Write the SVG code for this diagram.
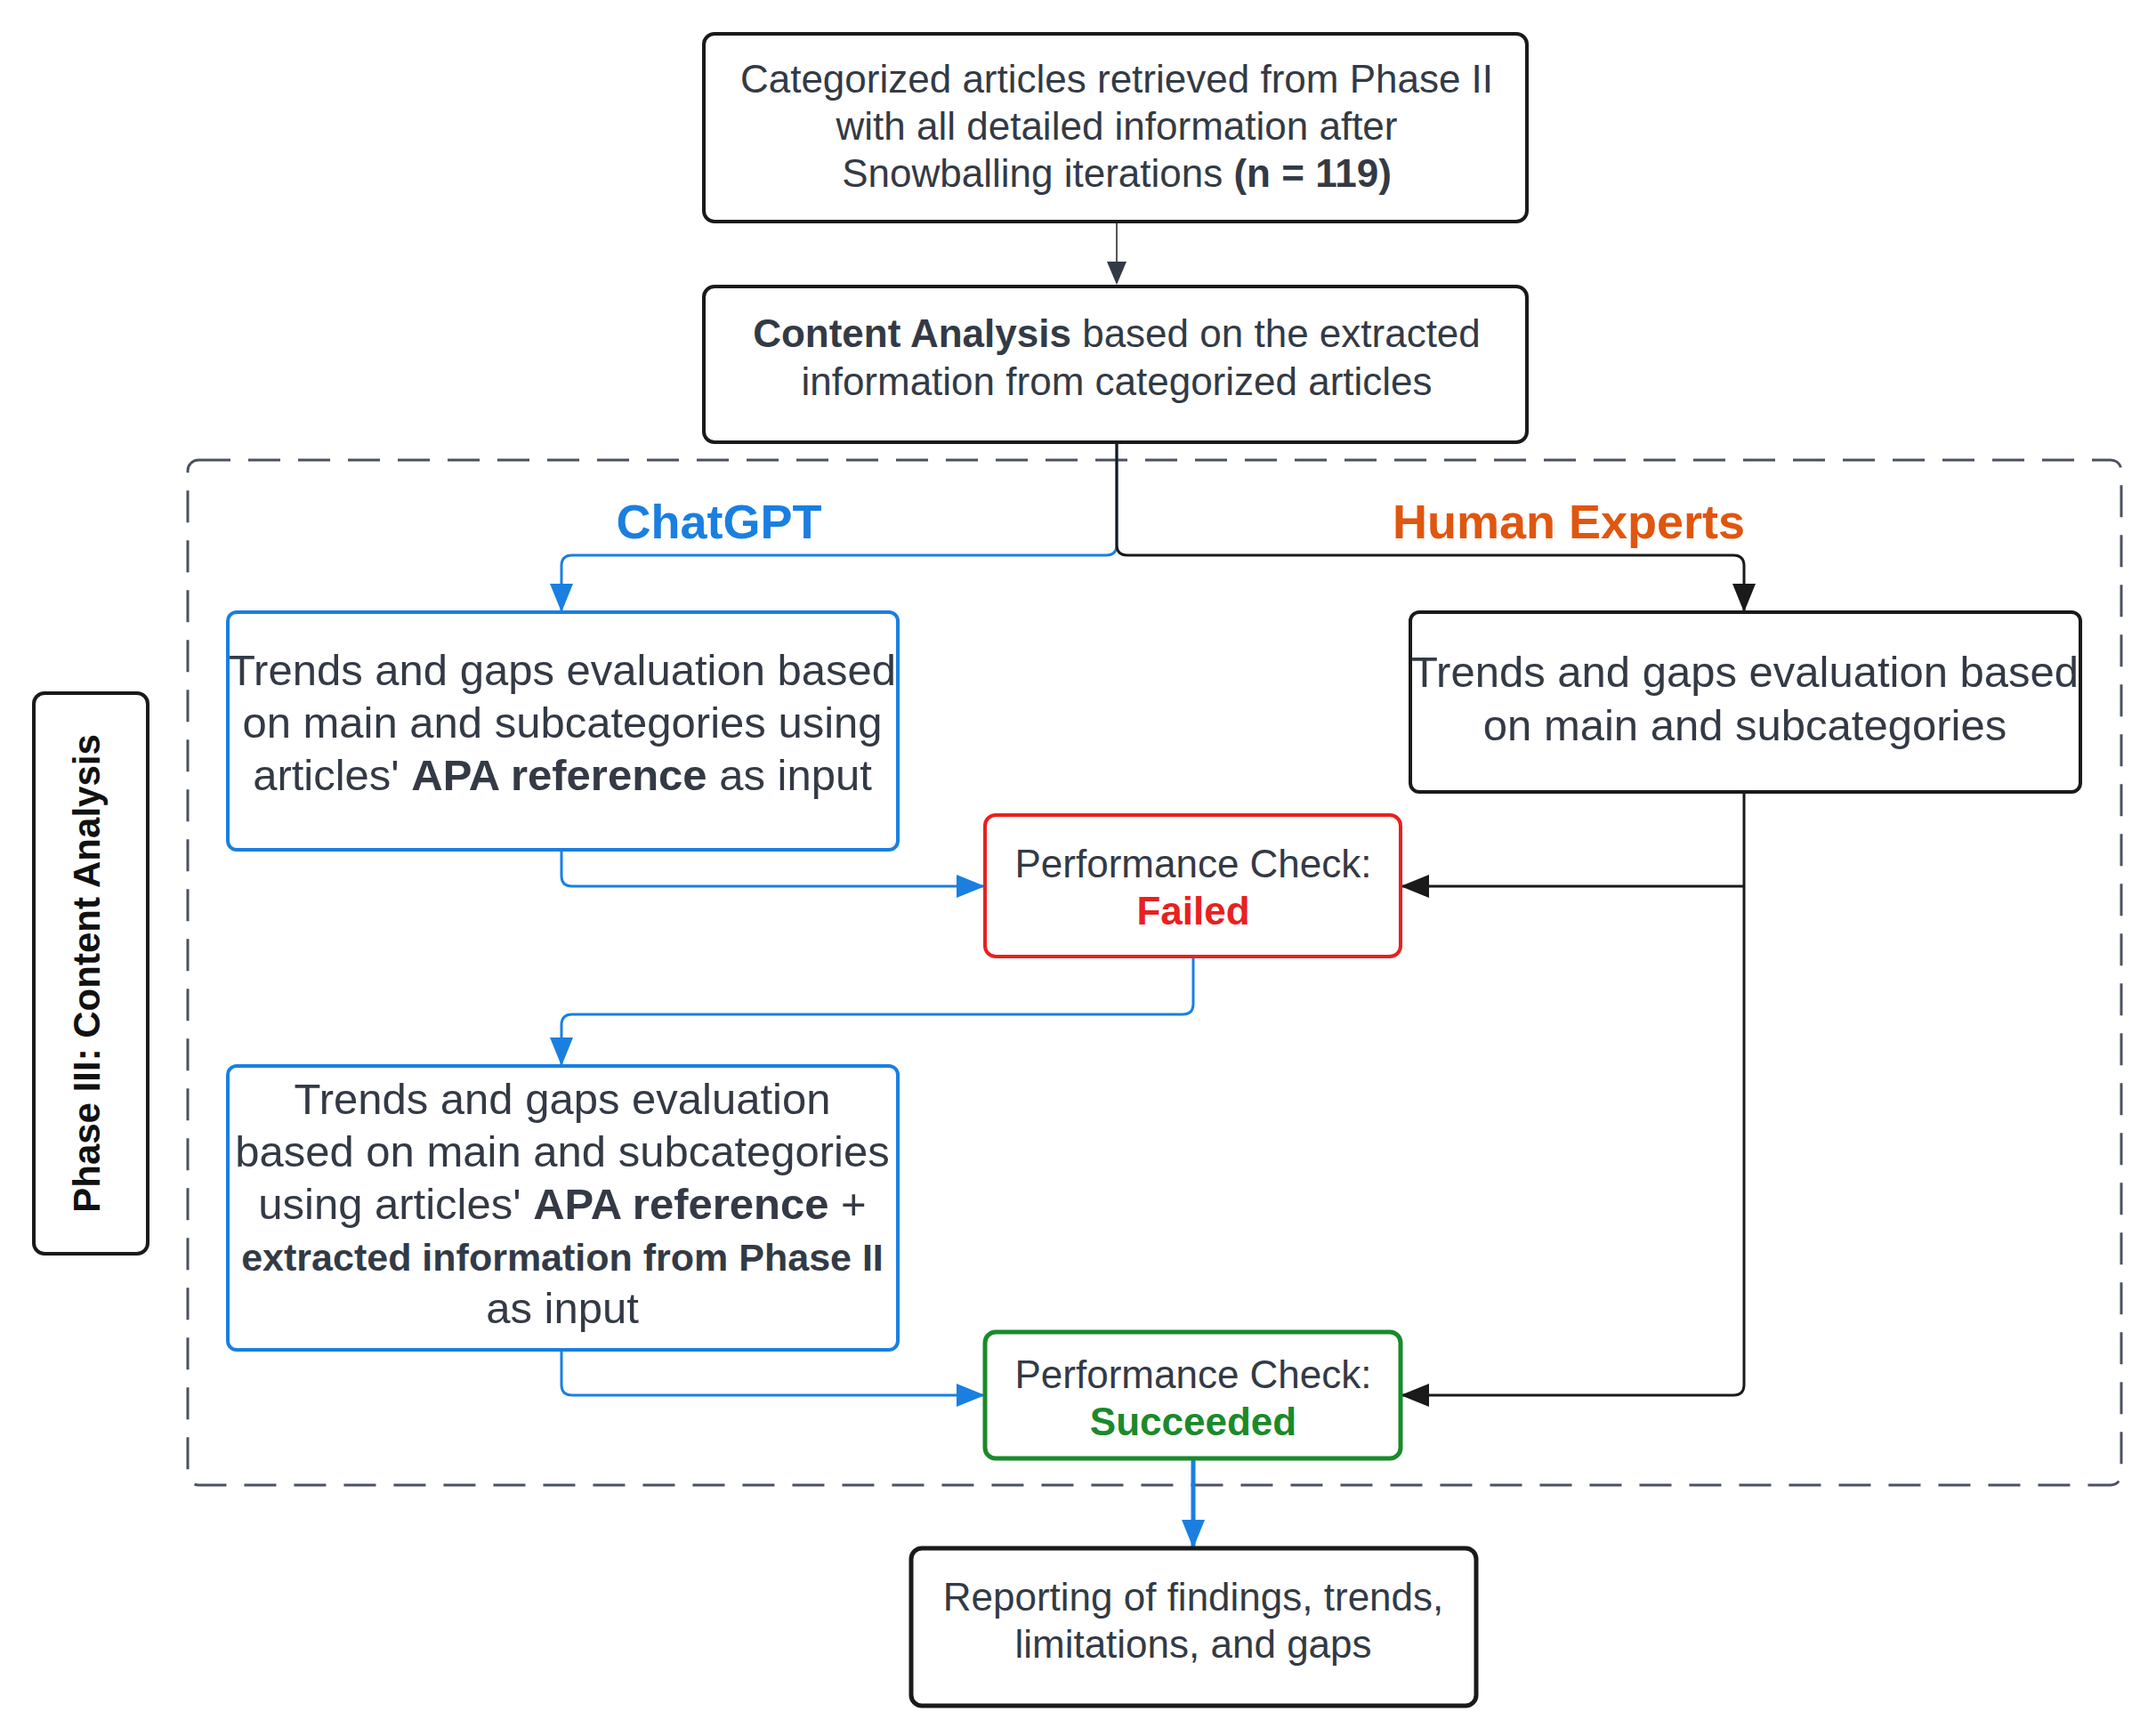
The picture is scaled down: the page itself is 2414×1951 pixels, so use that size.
<svg xmlns="http://www.w3.org/2000/svg" width="2414" height="1951" viewBox="0 0 2414 1951">
<style>
text{font-family:"Liberation Sans",Arial,sans-serif;fill:#333a45;text-anchor:middle}
.t{font-size:44px}.b{font-size:49px}
.k{fill:#fff;stroke:#1a1a1a;stroke-width:4}
.bl{fill:#fff;stroke:#1a7fe0;stroke-width:4}
.lb{fill:none;stroke:#1a7fe0;stroke-width:4}
.lk{fill:none;stroke:#1a1a1a;stroke-width:3}
</style>
<defs>
<marker id="ab" markerWidth="32" markerHeight="26" refX="30" refY="13" orient="auto" markerUnits="userSpaceOnUse" viewBox="0 0 32 26"><path d="M0,0L32,13L0,26z" fill="#1a7fe0"/></marker>
<marker id="ak" markerWidth="32" markerHeight="26" refX="30" refY="13" orient="auto" markerUnits="userSpaceOnUse" viewBox="0 0 32 26"><path d="M0,0L32,13L0,26z" fill="#1a1a1a"/></marker>
<marker id="ag" markerWidth="26" markerHeight="22" refX="24" refY="11" orient="auto" markerUnits="userSpaceOnUse" viewBox="0 0 26 22"><path d="M0,0L26,11L0,22z" fill="#333a45"/></marker>
</defs>
<rect width="2414" height="1951" fill="#fff"/>
<rect x="211" y="517" width="2173" height="1152" rx="12" fill="none" stroke="#4a5260" stroke-width="3" stroke-dasharray="36,20"/>
<g id="connectors">
<path d="M1255,249V318" stroke="#555" stroke-width="2" fill="none" marker-end="url(#ag)"/>
<path d="M1255,497V612q0,12-12,12H643q-12,0-12,12V686" class="lb" marker-end="url(#ab)" style="stroke-width:3"/>
<path d="M1255,497V612q0,12,12,12H1948q12,0,12,12V686" class="lk" marker-end="url(#ak)"/>
<path d="M631,955V984q0,12,12,12H1105" class="lb" marker-end="url(#ab)" style="stroke-width:3"/>
<path d="M1960,890V1556q0,12-12,12H1576" class="lk" marker-end="url(#ak)"/>
<path d="M1960,996H1576" class="lk" marker-end="url(#ak)"/>
<path d="M1341,1075V1128q0,12-12,12H643q-12,0-12,12V1196" class="lb" marker-end="url(#ab)" style="stroke-width:3"/>
<path d="M631,1517V1556q0,12,12,12H1105" class="lb" marker-end="url(#ab)" style="stroke-width:3"/>
<path d="M1341,1639V1738" class="lb" marker-end="url(#ab)" style="stroke-width:5"/>
</g>
<g id="n1"><rect x="791" y="38" width="925" height="211" rx="12" class="k"/>
<text class="t" x="1255" y="104">Categorized articles retrieved from Phase II</text>
<text class="t" x="1255" y="157">with all detailed information after</text>
<text class="t" x="1255" y="210">Snowballing iterations <tspan font-weight="bold">(n = 119)</tspan></text></g>
<g id="n2"><rect x="791" y="322" width="925" height="175" rx="12" class="k"/>
<text class="t" x="1255" y="390"><tspan font-weight="bold">Content Analysis</tspan> based on the extracted</text>
<text class="t" x="1255" y="444">information from categorized articles</text></g>
<g id="phase"><rect x="38" y="779" width="128" height="630" rx="12" class="k"/>
<text x="112" y="1094" font-size="42" font-weight="bold" transform="rotate(-90 112 1094)" style="fill:#111">Phase III: Content Analysis</text></g>
<text x="808" y="605" font-size="54" font-weight="bold" style="fill:#1a7fe0">ChatGPT</text>
<text x="1763" y="605" font-size="54" font-weight="bold" style="fill:#e0560f">Human Experts</text>
<g id="c1"><rect x="256" y="688" width="753" height="267" rx="10" class="bl"/>
<text class="b" x="632" y="770">Trends and gaps evaluation based</text>
<text class="b" x="632" y="829">on main and subcategories using</text>
<text class="b" x="632" y="888">articles' <tspan font-weight="bold">APA reference</tspan> as input</text></g>
<g id="h1"><rect x="1585" y="688" width="753" height="202" rx="10" class="k"/>
<text class="b" x="1961" y="772">Trends and gaps evaluation based</text>
<text class="b" x="1961" y="832">on main and subcategories</text></g>
<g id="fail"><rect x="1107" y="916" width="467" height="159" rx="12" fill="#fff" stroke="#e8211f" stroke-width="4"/>
<text class="t" x="1341" y="986">Performance Check:</text>
<text class="t" x="1341" y="1039" font-weight="bold" style="fill:#e8211f">Failed</text></g>
<g id="c2"><rect x="256" y="1198" width="753" height="319" rx="10" class="bl"/>
<text class="b" x="632" y="1252">Trends and gaps evaluation</text>
<text class="b" x="632" y="1311">based on main and subcategories</text>
<text class="b" x="632" y="1370">using articles' <tspan font-weight="bold">APA reference</tspan> +</text>
<text x="632" y="1428" font-size="43" font-weight="bold">extracted information from Phase II</text>
<text class="b" x="632" y="1487">as input</text></g>
<g id="succ"><rect x="1107" y="1497" width="467" height="142" rx="12" fill="#fff" stroke="#1a8a2a" stroke-width="5"/>
<text class="t" x="1341" y="1560">Performance Check:</text>
<text class="t" x="1341" y="1613" font-weight="bold" style="fill:#1a8a2a">Succeeded</text></g>
<g id="rep"><rect x="1024" y="1740" width="635" height="177" rx="12" class="k" style="stroke-width:5"/>
<text class="t" x="1341" y="1810">Reporting of findings, trends,</text>
<text class="t" x="1341" y="1863">limitations, and gaps</text></g>
</svg>
